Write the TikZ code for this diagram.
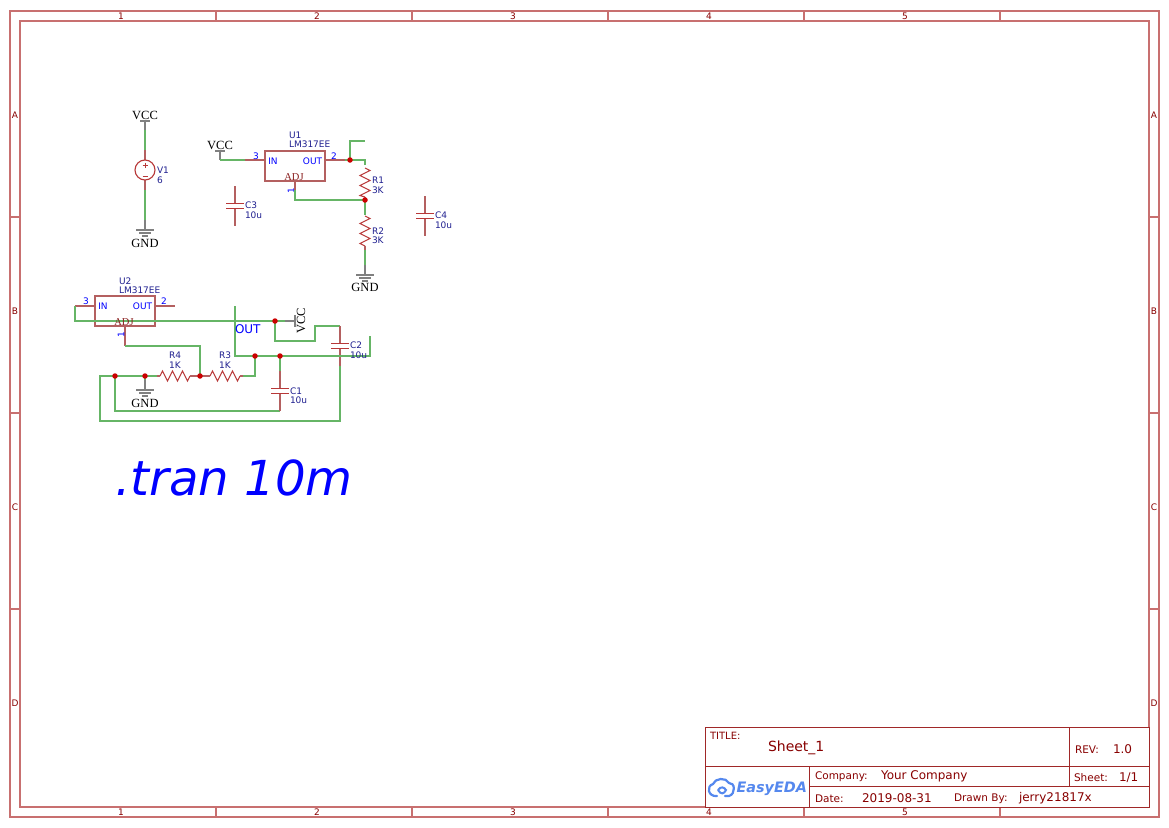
\documentclass[tikz,border=0pt]{standalone}
\usepackage{fontspec}
\setmainfont{DejaVu Sans}
\newfontfamily\serifsym{Liberation Serif}
\usetikzlibrary{calc}
\definecolor{frame}{HTML}{C87070}
\definecolor{tbline}{HTML}{A02828}
\definecolor{ftext}{HTML}{880000}
\definecolor{wirec}{HTML}{66B566}
\definecolor{bodyc}{HTML}{B46060}
\definecolor{zigc}{HTML}{B83838}
\definecolor{adjc}{HTML}{8B2020}
\definecolor{netc}{HTML}{808080}
\definecolor{desig}{HTML}{202090}
\definecolor{pinc}{HTML}{0000FF}
\definecolor{junc}{HTML}{CC0000}
\definecolor{logoc}{HTML}{5588EE}
\newcommand{\fs}[1]{\fontsize{#1pt}{#1pt}\selectfont}
\newcommand{\resv}[3]{\draw[zig] (#1,#2) -- ++(5,2.5) -- ++(-10,5) -- ++(10,5) -- ++(-10,5) -- ++(10,5) -- ++(-10,5) -- (#1,#3);}
\newcommand{\resh}[3]{\draw[zig] (#2,#1) -- ++(2.5,-5) -- ++(5,10) -- ++(5,-10) -- ++(5,10) -- ++(5,-10) -- ++(5,10) -- (#3,#1);}
\newcommand{\gndsym}[1]{\draw[netl] ($(#1)+(-9,0)$) -- ($(#1)+(9,0)$) ($(#1)+(-6,3)$) -- ($(#1)+(6,3)$) ($(#1)+(-3,6)$) -- ($(#1)+(3,6)$);}
\tikzset{
  x=1pt,y=-1pt,
  txt/.style={inner sep=0pt,outer sep=0pt},
  frameline/.style={draw=frame,line width=1.3pt},
  tbl/.style={draw=tbline,line width=1pt},
  ftick/.style={txt,text=ftext,font=\fs{9}},
  tb/.style={txt,anchor=west,text=ftext,font=\fs{10.5}},
  wire/.style={draw=wirec,line width=1.3pt},
  body/.style={draw=bodyc,line width=1.3pt},
  zig/.style={draw=zigc,line width=1.1pt},
  plate/.style={draw=zigc,line width=1pt},
  netl/.style={draw=netc,line width=1.3pt},
  dot/.style={circle,fill=junc,inner sep=0pt,minimum size=5.5pt},
  des/.style={txt,anchor=west,text=desig,font=\fs{9}},
  pinnum/.style={txt,text=pinc,font=\fs{9}},
  pinname/.style={txt,text=pinc,font=\fs{9}},
  adj/.style={txt,text=adjc,font=\serifsym\fs{10.5}},
  sym/.style={txt,text=black,font=\serifsym\fs{12.5}},
}
\begin{document}
\begin{tikzpicture}
\useasboundingbox (0,0) rectangle (1169,827);
\fill[white] (0,0) rectangle (1169,827);
% frame
\draw[frameline] (10,11) rectangle (1159,817);
\draw[frameline] (20,21) rectangle (1149,807);
\foreach \x in {216,412,608,804,1000} {
  \draw[frameline] (\x,11) -- (\x,21);
  \draw[frameline] (\x,807) -- (\x,817);
}
\foreach \y in {217,413,609} {
  \draw[frameline] (10,\y) -- (20,\y);
  \draw[frameline] (1149,\y) -- (1159,\y);
}
\foreach \x/\t in {121/1,317/2,513/3,709/4,905/5} {
  \node[ftick] at (\x,16) {\t};
  \node[ftick] at (\x,812) {\t};
}
\foreach \y/\t in {115.5/A,311.5/B,507.5/C,703.5/D} {
  \node[ftick] at (15,\y) {\t};
  \node[ftick] at (1154,\y) {\t};
}
% title block
\draw[tbl,fill=white] (705,727) rectangle (1149,807);
\draw[tbl] (705,766) -- (1149,766) (809.5,786) -- (1149,786) (809.5,766) -- (809.5,807) (1069,727) -- (1069,786);
\node[tb,font=\fs{10}] at (710,736) {TITLE:};
\node[tb,font=\fs{14}] at (768,748) {Sheet\_1};
\node[tb] at (1075,749.5) {REV:};
\node[tb,font=\fs{12}] at (1113,749) {1.0};
\node[tb] at (815,776.5) {Company:};
\node[tb,font=\fs{12}] at (881,776) {Your Company};
\node[tb] at (1074,778) {Sheet:};
\node[tb,font=\fs{12}] at (1119,778) {1/1};
\node[tb] at (815,798.5) {Date:};
\node[tb,font=\fs{12}] at (862,798) {2019-08-31};
\node[tb] at (954,798.5) {Drawn By:};
\node[tb,font=\fs{12}] at (1019,798) {jerry21817x};
% logo
\draw[logoc,line width=2.2pt,line cap=round,line join=round]
  (717,796) .. controls (708,797) and (706,786) .. (713,784)
  .. controls (715,778) and (726,777) .. (729,783)
  .. controls (735,782) and (736,794) .. (729,796) -- (725,796);
\draw[logoc,line width=2pt,line cap=round] (718,790) .. controls (721,786) and (724,787) .. (726,790) .. controls (724,794) and (721,795) .. (718,790);
\node[txt,anchor=west,text=logoc,font=\bfseries\itshape\fs{14.4}] at (736.5,789) {EasyEDA};
% coordinates
\coordinate (v1top) at (145,121);
\coordinate (v1a) at (145,130);
\coordinate (v1b) at (145,150);
\coordinate (v1c) at (145,190);
\coordinate (v1d) at (145,220);
\coordinate (v1gnd) at (145,230);
\coordinate (vcc2) at (220,151);
\coordinate (vcc2a) at (220,160);
\coordinate (u1in) at (245,160);
\coordinate (u1inb) at (265,160);
\coordinate (u1outb) at (325,160);
\coordinate (u1out) at (345,160);
\coordinate (j1) at (350,160);
\coordinate (j1a) at (350,141);
\coordinate (j1b) at (365,141);
\coordinate (r1t) at (365,160);
\coordinate (j2) at (365,200);
\coordinate (adjb) at (295,181);
\coordinate (adjc) at (295,190);
\coordinate (adjd) at (295,200);
\coordinate (r2b) at (365,265);
\coordinate (g2) at (365,275);
% upper schematic
\draw[netl] (v1top) -- (v1a);
\draw[netl] ($(v1top)+(-5,0)$) -- ($(v1top)+(5,0)$);
\draw[wire] (v1a) -- (v1b);
\draw[body] (v1b) -- (145,160) (145,180) -- (v1c);
\draw[zig] (145,170) circle (10);
\draw[zig,line width=1pt] (142.5,165) -- (147.5,165) (145,162.5) -- (145,167.5) (142.5,176) -- (147.5,176);
\draw[wire] (v1c) -- (v1d);
\draw[netl] (v1d) -- (v1gnd);
\gndsym{v1gnd}
\node[sym] at (145,115.5) {VCC};
\node[sym] at (145,243) {GND};
\node[des] at (157,170.5) {V1};
\node[des] at (157,180) {6};
\draw[netl] ($(vcc2)+(-5,0)$) -- ($(vcc2)+(5,0)$);
\draw[netl] (vcc2) -- (vcc2a);
\draw[wire] (vcc2a) -- (u1in);
\draw[body] (u1in) -- (u1inb);
\node[sym] at (220,145.5) {VCC};
\draw[body] (265,151) rectangle (325,181);
\node[des] at (289,135.5) {U1};
\node[des] at (289,144.5) {LM317EE};
\node[pinname] at (273,161) {IN};
\node[pinname] at (312.5,161) {OUT};
\node[pinnum] at (256,156) {3};
\node[pinnum] at (334,156) {2};
\node[adj] at (294,177) {ADJ};
\node[pinnum,rotate=90] at (291,191) {1};
\draw[body] (u1outb) -- (u1out);
\draw[wire] (u1out) -- (j1) -- (r1t) -- (365,165);
\draw[wire] (j1) -- (j1a) -- (j1b);
\resv{365}{168}{197}
\draw[body] (adjb) -- (adjc);
\draw[wire] (adjc) -- (adjd) -- (j2);
\draw[wire] (j2) -- (365,215);
\resv{365}{216}{246}
\draw[wire] (365,250) -- (r2b);
\draw[netl] (r2b) -- (g2);
\draw[body] (365,197) -- (j2) (365,246) -- (365,250);
\gndsym{g2}
\node[sym] at (365,287.5) {GND};
\node[dot] at (j1) {};
\node[dot] at (j2) {};
\node[des] at (372,180.5) {R1};
\node[des] at (372,190) {3K};
\node[des] at (372,231) {R2};
\node[des] at (372,240) {3K};
% C3, C4
\draw[body] (235,186) -- (235,203) (235,208) -- (235,226);
\draw[plate] (226,203) -- (244,203) (226,208) -- (244,208);
\node[des] at (245,205.5) {C3};
\node[des] at (245,215) {10u};
\draw[body] (425,196) -- (425,213) (425,218) -- (425,236);
\draw[plate] (416,213) -- (434,213) (416,218) -- (434,218);
\node[des] at (435,215.5) {C4};
\node[des] at (435,225) {10u};
% lower schematic
\coordinate (u2inL) at (75,306);
\coordinate (u2l) at (75,321);
\coordinate (j3) at (275,321);
\coordinate (vcc3a) at (285,321);
\coordinate (vcc3) at (295,321);
\coordinate (w1) at (275,341);
\coordinate (w2) at (315,341);
\coordinate (w3) at (315,326);
\coordinate (c2t) at (340,326);
\coordinate (c2b) at (340,366);
\coordinate (w4) at (340,421);
\coordinate (w5) at (100,421);
\coordinate (w6) at (100,376);
\coordinate (j4) at (115,376);
\coordinate (j5) at (145,376);
\coordinate (j6) at (200,376);
\coordinate (j7) at (255,356);
\coordinate (j8) at (280,356);
\coordinate (w7) at (235,306);
\coordinate (w8) at (235,356);
\coordinate (w9) at (370,356);
\coordinate (w10) at (370,336);
\coordinate (w11) at (255,376);
\coordinate (w12) at (115,411);
\coordinate (c1b) at (280,411);
\coordinate (c1t) at (280,371);
\coordinate (w13) at (200,346);
\coordinate (w14) at (125,346);
\coordinate (g3) at (145,390);
\draw[body] (95,296) rectangle (155,326);
\draw[body] (u2inL) -- (95,306) (155,306) -- (175,306);
\draw[body] (125,326) -- (w14);
\draw[wire] (u2inL) -- (u2l) -- (j3);
\draw[netl] (vcc3a) -- (vcc3);
\draw[wire] (j3) -- (vcc3a);
\draw[netl] (295,315) -- (295,327);
\draw[wire] (j3) -- (w1) -- (w2) -- (w3) -- (c2t);
\draw[body] (c2t) -- (340,343) (340,348) -- (c2b);
\draw[plate] (331,343) -- (349,343) (331,348) -- (349,348);
\draw[wire] (c2b) -- (w4) -- (w5) -- (w6) -- (j4) -- (j5) -- (157,376);
\draw[wire] (j4) -- (w12) -- (c1b);
\draw[body] (c1b) -- (280,393) (280,388) -- (c1t);
\draw[plate] (271,393) -- (289,393) (271,388) -- (289,388);
\draw[wire] (c1t) -- (j8);
\draw[wire] (w7) -- (w8) -- (w9) -- (w10);
\draw[wire] (j7) -- (w11) -- (243,376);
\draw[wire] (w14) -- (w13) -- (j6);
\resh{376}{160}{190}
\resh{376}{210}{240}
\draw[body] (157,376) -- (160,376) (190,376) -- (j6) -- (210,376) (240,376) -- (243,376);
\draw[wire] (j5) -- (145,380);
\draw[netl] (145,380) -- (g3);
\gndsym{g3}
\node[sym] at (145,403) {GND};
\node[dot] at (j3) {};
\node[dot] at (j4) {};
\node[dot] at (j5) {};
\node[dot] at (j6) {};
\node[dot] at (j7) {};
\node[dot] at (j8) {};
\node[sym,rotate=90] at (301,321) {VCC};
\node[des] at (119,281) {U2};
\node[des] at (119,290) {LM317EE};
\node[pinname] at (103,306) {IN};
\node[pinname] at (142.5,306) {OUT};
\node[pinnum] at (86,301) {3};
\node[pinnum] at (164,301) {2};
\node[adj] at (124,322) {ADJ};
\node[pinnum,rotate=90] at (121,335) {1};
\node[des,anchor=center] at (175,355) {R4};
\node[des,anchor=center] at (175,365) {1K};
\node[des,anchor=center] at (225,355) {R3};
\node[des,anchor=center] at (225,365) {1K};
\node[des] at (350,345) {C2};
\node[des] at (350,355) {10u};
\node[des] at (290,391) {C1};
\node[des] at (290,400) {10u};
\node[txt,anchor=west,text=pinc,font=\fs{12}] at (235,329) {OUT};
\node[txt,anchor=base west,text=pinc,font=\itshape\fs{48.2}] at (115,495) {.tran 10m};
\end{tikzpicture}
\end{document}
